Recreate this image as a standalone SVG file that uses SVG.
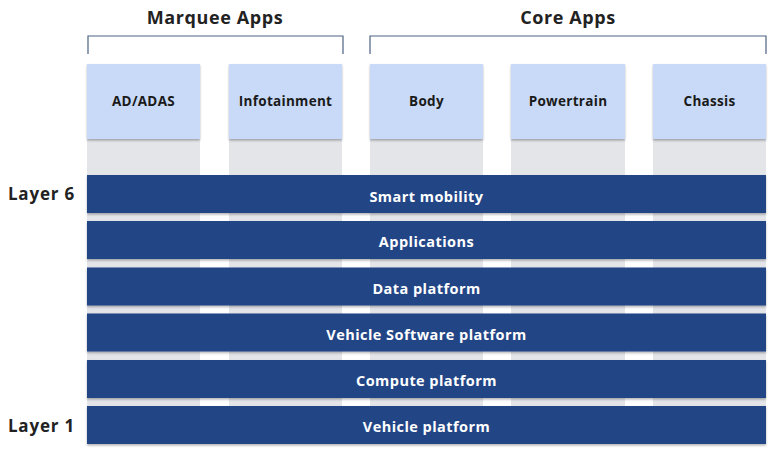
<svg xmlns="http://www.w3.org/2000/svg" width="779" height="456" viewBox="0 0 779 456">
<defs>
<filter id="sh" x="-5%" y="-10%" width="110%" height="130%">
<feDropShadow dx="0" dy="1.5" stdDeviation="1" flood-color="#000" flood-opacity="0.3"/>
</filter>
</defs>
<style>
.col{fill:#e4e5e9}
.app{fill:#c9daf8;filter:url(#sh)}
.bar{fill:#204586;filter:url(#sh)}
.at{font-family:"Open Sans","Liberation Sans",sans-serif;font-weight:bold;font-size:13.5px;letter-spacing:0.3px;fill:#1a1a1a;text-anchor:middle}
.bt{font-family:"Open Sans","Liberation Sans",sans-serif;font-weight:bold;font-size:14.5px;letter-spacing:0.45px;fill:#ffffff;text-anchor:middle}
.hd{font-family:"Open Sans","Liberation Sans",sans-serif;font-weight:bold;font-size:18px;letter-spacing:0.6px;fill:#222;text-anchor:middle}
.ly{font-family:"Open Sans","Liberation Sans",sans-serif;font-weight:bold;font-size:17px;letter-spacing:0.8px;fill:#222;text-anchor:end}
.br{fill:none;stroke:#4d6282;stroke-width:1.2}
</style>
<rect width="779" height="456" fill="#ffffff"/>
<g id="columns">
<rect class="col" x="87" y="139" width="113" height="300"/>
<rect class="col" x="229" y="139" width="113" height="300"/>
<rect class="col" x="370" y="139" width="113" height="300"/>
<rect class="col" x="511" y="139" width="114" height="300"/>
<rect class="col" x="653" y="139" width="113" height="300"/>
</g>
<g id="headers">
<text class="hd" x="215" y="24">Marquee Apps</text>
<text class="hd" x="568" y="24">Core Apps</text>
<path class="br" d="M88,54 V36 H343 V54"/>
<path class="br" d="M370,54 V36 H766 V54"/>
</g>
<g id="app-adadas"><rect class="app" x="87" y="64" width="113" height="75"/><text class="at" x="143.5" y="106">AD/ADAS</text></g>
<g id="app-infotainment"><rect class="app" x="229" y="64" width="113" height="75"/><text class="at" x="285.5" y="106">Infotainment</text></g>
<g id="app-body"><rect class="app" x="370" y="64" width="113" height="75"/><text class="at" x="426.5" y="106">Body</text></g>
<g id="app-powertrain"><rect class="app" x="511" y="64" width="114" height="75"/><text class="at" x="568" y="106">Powertrain</text></g>
<g id="app-chassis"><rect class="app" x="653" y="64" width="113" height="75"/><text class="at" x="709.5" y="106">Chassis</text></g>
<g id="layer6"><rect class="bar" x="87" y="175" width="679" height="38"/><text class="bt" x="426.5" y="201.5">Smart mobility</text></g>
<g id="layer5"><rect class="bar" x="87" y="221" width="679" height="38"/><text class="bt" x="426.5" y="247">Applications</text></g>
<g id="layer4"><rect class="bar" x="87" y="267.5" width="679" height="38"/><text class="bt" x="426.5" y="293.5">Data platform</text></g>
<g id="layer3"><rect class="bar" x="87" y="313.5" width="679" height="38"/><text class="bt" x="426.5" y="339.5">Vehicle Software platform</text></g>
<g id="layer2"><rect class="bar" x="87" y="360" width="679" height="38"/><text class="bt" x="426.5" y="386">Compute platform</text></g>
<g id="layer1"><rect class="bar" x="87" y="406" width="679" height="38"/><text class="bt" x="426.5" y="432">Vehicle platform</text></g>
<g id="labels">
<text class="ly" x="75" y="199.5">Layer 6</text>
<text class="ly" x="75" y="432">Layer 1</text>
</g>
</svg>
